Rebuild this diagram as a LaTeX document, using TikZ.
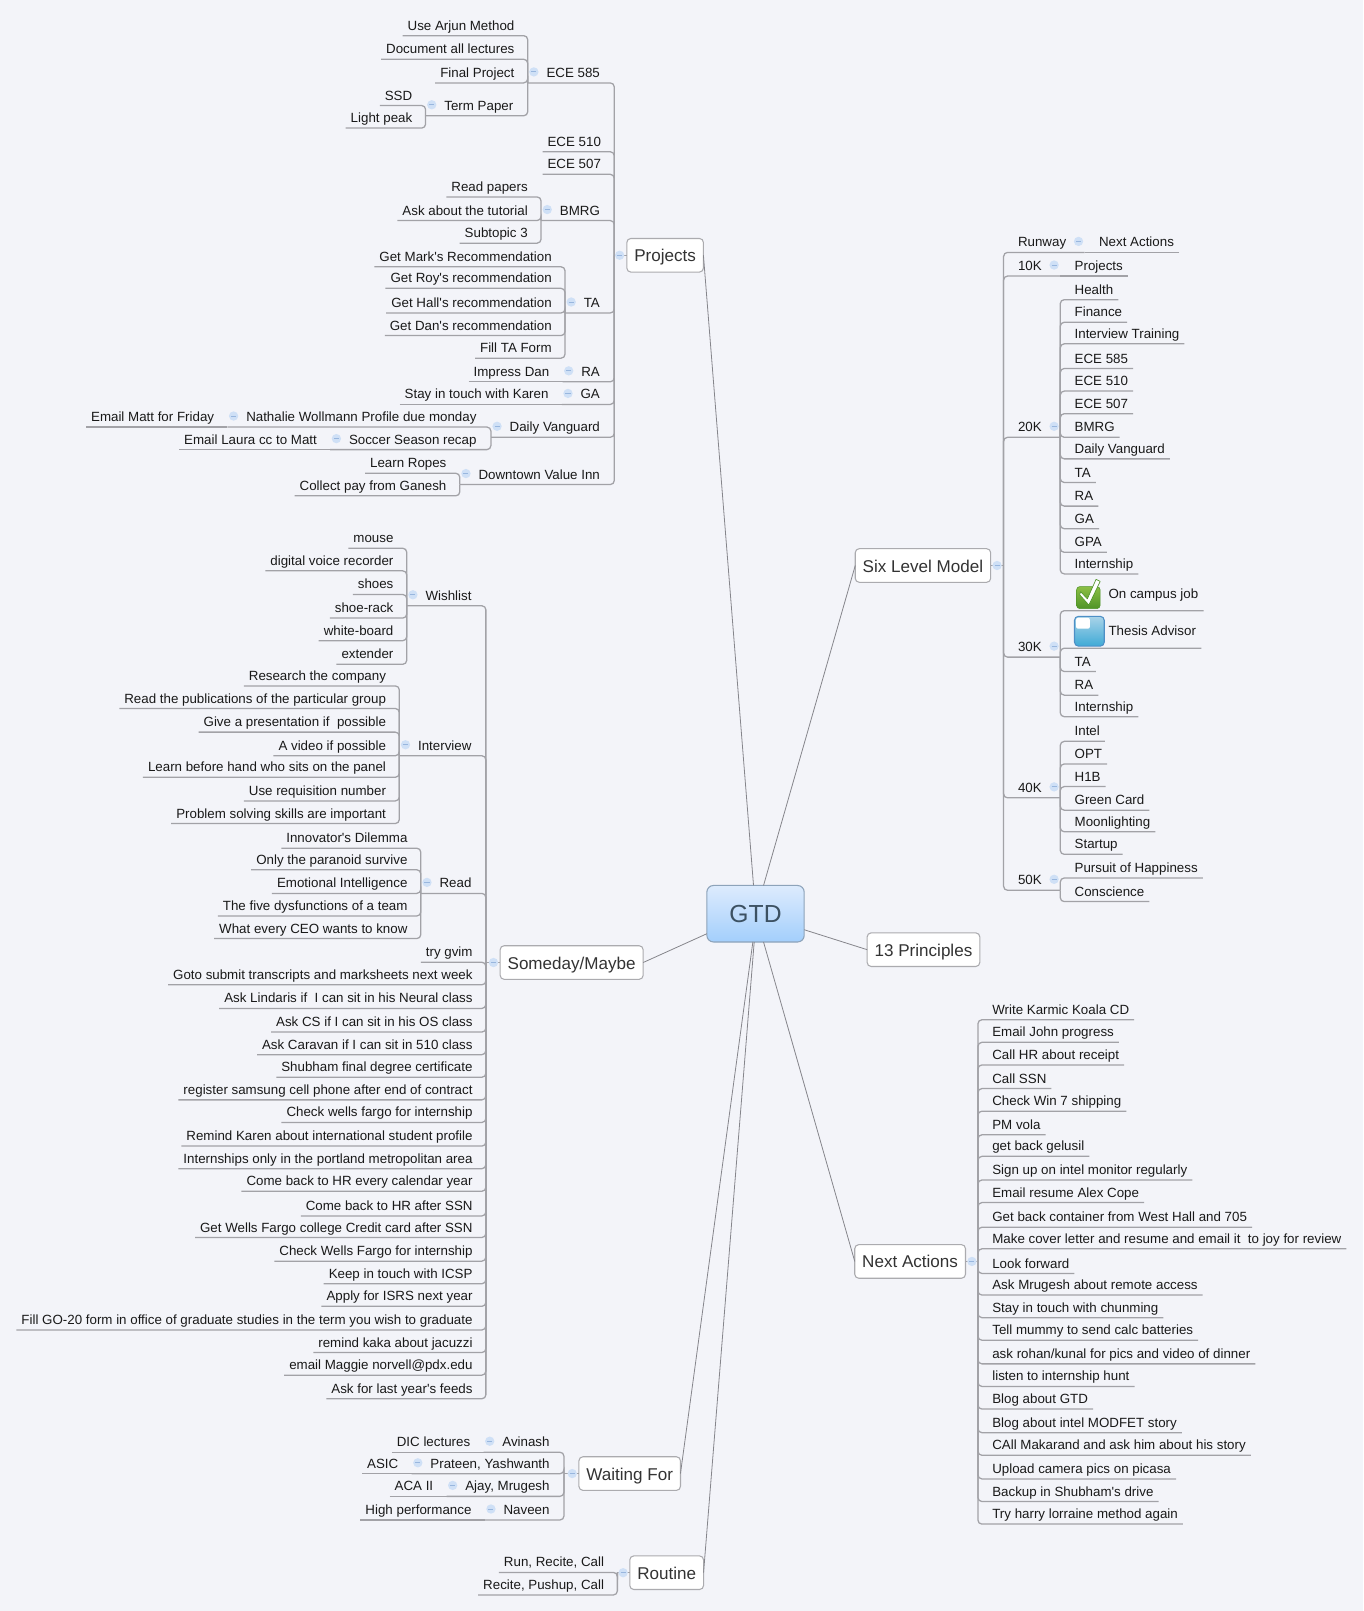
\documentclass[tikz,border=0pt]{standalone}
\usepackage{fontspec}
\setmainfont{Liberation Sans}[Ligatures=TeXOff]
\usetikzlibrary{positioning}
\definecolor{paper}{HTML}{F3F4F9}
\definecolor{linegray}{HTML}{A2A2A7}
\definecolor{spokegray}{HTML}{85858B}
\definecolor{boxgray}{HTML}{ABABAF}
\definecolor{markfill}{HTML}{CFE0F6}
\definecolor{markdash}{HTML}{98B6DE}
\definecolor{gtdtop}{HTML}{DDEBFD}
\definecolor{gtdbottom}{HTML}{A3CFFC}
\definecolor{gtdedge}{HTML}{8DA3BA}
\definecolor{gtdtext}{HTML}{3C5162}
\definecolor{checktop}{HTML}{8CBF45}
\definecolor{checkbottom}{HTML}{4F9428}
\definecolor{thesistop}{HTML}{A9D3E8}
\definecolor{thesisbottom}{HTML}{3FAAD6}
\definecolor{thesisedge}{HTML}{4D8FC6}
\tikzset{
  x=0.7704pt, y=0.7704pt,
  padx/.style 2 args={inner xsep=0pt, execute at begin node=\kern#1pt\relax, execute at end node=\kern#2pt\relax},
  leaf/.style={font=\fontsize{10}{12}\selectfont, text=black!90, outer sep=0pt, inner ysep=1.1pt, text height=8pt, text depth=3pt},
  kidl/.style={leaf, anchor=south east, padx={3.8}{10}},
  parl/.style={leaf, anchor=south east, padx={14.1}{10.8}},
  kidr/.style={leaf, anchor=south west, padx={10.8}{3.8}},
  parr/.style={leaf, anchor=south west, padx={10.8}{13.9}},
  iconkid/.style={leaf, anchor=south west, padx={36.2}{4}, text depth=8.4pt},
  branch/.style={draw=linegray, line width=.95pt, rounded corners=3pt},
  spoke/.style={draw=spokegray, line width=.6pt},
  topic/.style={draw=boxgray, line width=.8pt, fill=white, rounded corners=3pt, outer sep=0pt, inner xsep=5.6pt, minimum height=25.2pt, text height=11.3pt, text depth=1.5pt, font=\fontsize{12.8}{15}\selectfont, text=black!80},
  marker/.style={circle, inner sep=0pt, minimum size=7pt, fill=markfill, path picture={\draw[markdash, line width=.7pt] ([xshift=1.6pt]path picture bounding box.west) -- ([xshift=-1.6pt]path picture bounding box.east);}},
}
\newcommand{\kidsl}[3]{\foreach \ty/\txt [count=\i] in {#3} {
  \node[kidl] (#1\i) at (#2 |- 0,-\ty-10.7) {\txt};
  \draw[branch] (#1\i.south west) -- (#1\i.south east) -- (#2);
}}
\newcommand{\kidsr}[3]{\foreach \ty/\txt [count=\i] in {#3} {
  \node[kidr] (#1\i) at (#2 |- 0,-\ty-10.7) {\txt};
  \draw[branch] (#1\i.south east) -- (#1\i.south west) -- (#2);
}}
\newcommand{\parentl}[4]{
  \node[parl] (#1) at (#2 |- 0,-#3-10.7) {#4};
  \draw[branch] (#1.south west) -- (#1.south east) -- (#2);
  \node[marker] (#1m) at ([shift={(6,10.7)}]#1.south west) {};
}
\newcommand{\parentr}[4]{
  \node[parr] (#1) at (#2 |- 0,-#3-10.7) {#4};
  \draw[branch] (#1.south east) -- (#1.south west) -- (#2);
  \node[marker] (#1m) at ([shift={(-6,10.7)}]#1.south east) {};
}
% a lone child sits on its parent's line
\newcommand{\lonel}[3]{
  \node[kidl, anchor=south east] (#1) at (#2.south west) {#3};
  \draw[draw=linegray, line width=.95pt] (#1.south west) -- (#2.south west);
}
\newcommand{\loner}[3]{
  \node[kidr, anchor=south west] (#1) at (#2.south east) {#3};
  \draw[draw=linegray, line width=.95pt] (#1.south east) -- (#2.south east);
}
\begin{document}
\begin{tikzpicture}
\useasboundingbox (0,0) rectangle (1326.9,-1568.3);
\fill[paper] (0,0) rectangle (1326.9,-1568.3);

\node[topic] (projects) at (647.5,-248.5) {Projects};
\node[topic] (six) at (898.5,-550.5) {Six Level Model};
\node[topic] (principles) at (899,-924.5) {13 Principles};
\node[topic] (someday) at (556.5,-937) {Someday/Maybe};
\node[topic] (next) at (886,-1228) {Next Actions};
\node[topic] (waiting) at (613,-1434.5) {Waiting For};
\node[topic] (routine) at (649,-1531) {Routine};
\node[draw=gtdedge, line width=.8pt, rounded corners=5pt, top color=gtdtop, bottom color=gtdbottom, minimum width=73pt, minimum height=42.4pt, outer sep=0pt, font=\fontsize{18.5}{22}\selectfont, text=gtdtext] (gtd) at (735.5,-889.5) {GTD};

\draw[spoke] ([xshift=-1.5pt]gtd.north) -- (projects.east);
\draw[spoke] ([xshift=6pt]gtd.north) -- (six.west);
\draw[spoke] ([yshift=-12pt]gtd.east) -- (principles.west);
\draw[spoke] ([yshift=-15pt]gtd.west) -- (someday.east);
\draw[spoke] ([xshift=6pt]gtd.south) -- (next.west);
\draw[spoke] ([xshift=-2pt]gtd.south) -- (waiting.east);
\draw[spoke] ([xshift=-1pt]gtd.south) -- (routine.east);

\coordinate (projT) at (598,-248.5);
\draw[branch] (projT) -- (projects.west);
\node[marker] (projm) at ([xshift=-5.4pt]projects.west) {};
\parentl{ece}{projT}{70}{ECE 585}
\kidsl{ecek}{ece.south west}{24/Use Arjun Method, 47/Document all lectures, 70/Final Project}
\parentl{term}{ece.south west}{102}{Term Paper}
\kidsl{termk}{term.south west}{92/SSD, 114/Light peak}
\kidsl{projk}{projT}{137/ECE 510, 159/ECE 507}
\parentl{bmrg}{projT}{204}{BMRG}
\kidsl{bmrgk}{bmrg.south west}{181/Read papers, 204/Ask about the tutorial, 226/Subtopic 3}
\parentl{ta}{projT}{294}{TA}
\kidsl{tak}{ta.south west}{249/Get Mark's Recommendation, 270/Get Roy's recommendation, 294/Get Hall's recommendation, 316/Get Dan's recommendation, 338/Fill TA Form}
\parentl{ra}{projT}{361}{RA}
\lonel{impress}{ra}{Impress Dan}
\parentl{ga}{projT}{383}{GA}
\lonel{karen}{ga}{Stay in touch with Karen}
\parentl{daily}{projT}{415}{Daily Vanguard}
\parentl{nathalie}{daily.south west}{405}{Nathalie Wollmann Profile due monday}
\lonel{matt}{nathalie}{Email Matt for Friday}
\parentl{soccer}{daily.south west}{427}{Soccer Season recap}
\lonel{laura}{soccer}{Email Laura cc to Matt}
\parentl{downtown}{projT}{461}{Downtown Value Inn}
\kidsl{downk}{downtown.south west}{450/Learn Ropes, 472/Collect pay from Ganesh}

\coordinate (someT) at (473,-937);
\draw[branch] (someT) -- (someday.west);
\node[marker] (somem) at ([xshift=-5pt]someday.west) {};
\parentl{wish}{someT}{579}{Wishlist}
\kidsl{wishk}{wish.south west}{523/mouse, 545/digital voice recorder, 568/shoes, 591/shoe-rack, 613/white-board, 636/extender}
\parentl{interview}{someT}{725}{Interview}
\kidsl{intk}{interview.south west}{657/Research the company, 679/Read the publications of the particular group, 702/Give a presentation if\ \ possible, 725/A video if possible, 746/Learn before hand who sits on the panel, 769/Use requisition number, 791/Problem solving skills are important}
\parentl{read}{someT}{859}{Read}
\kidsl{readk}{read.south west}{815/Innovator's Dilemma, 836/Only the paranoid survive, 859/Emotional Intelligence, 881/The five dysfunctions of a team, 903/What every CEO wants to know}
\kidsl{somek}{someT}{926/try gvim, 948/Goto submit transcripts and marksheets next week, 971/Ask Lindaris if\ \ I can sit in his Neural class, 994/Ask CS if I can sit in his OS class, 1016/Ask Caravan if I can sit in 510 class, 1038/Shubham final degree certificate, 1060/register samsung cell phone after end of contract, 1082/Check wells fargo for internship, 1105/Remind Karen about international student profile, 1127/Internships only in the portland metropolitan area, 1149/Come back to HR every calendar year, 1173/Come back to HR after SSN, 1194/Get Wells Fargo college Credit card after SSN, 1217/Check Wells Fargo for internship, 1239/Keep in touch with ICSP, 1261/Apply for ISRS next year, 1284/Fill GO-20 form in office of graduate studies in the term you wish to graduate, 1306/remind kaka about jacuzzi, 1328/email Maggie norvell@pdx.edu, 1351/Ask for last year's feeds}

\coordinate (waitT) at (549,-1434.5);
\draw[branch] (waitT) -- (waiting.west);
\node[marker] (waitm) at ([xshift=-5pt]waiting.west) {};
\parentl{avinash}{waitT}{1403}{Avinash}
\lonel{dic}{avinash}{DIC lectures}
\parentl{prateen}{waitT}{1424}{Prateen, Yashwanth}
\lonel{asic}{prateen}{ASIC}
\parentl{ajay}{waitT}{1446}{Ajay, Mrugesh}
\lonel{aca}{ajay}{ACA II}
\parentl{naveen}{waitT}{1469}{Naveen}
\lonel{highperf}{naveen}{High performance}

\coordinate (routT) at (601,-1531);
\draw[branch] (routT) -- (routine.west);
\node[marker] (routm) at ([xshift=-5pt]routine.west) {};
\kidsl{routk}{routT}{1520/{Run, Recite, Call}, 1542/{Recite, Pushup, Call}}

\coordinate (sixT) at (977,-550.5);
\draw[branch] (six.east) -- (sixT);
\node[marker] (sixm) at ([xshift=4.8pt]six.east) {};
\parentr{runway}{sixT}{235}{Runway}
\loner{runnext}{runway}{Next Actions}
\parentr{tenk}{sixT}{258}{10K}
\loner{tenproj}{tenk}{Projects}
\parentr{twentyk}{sixT}{415}{20K}
\kidsr{twenk}{twentyk.south east}{281/Health, 303/Finance, 324/Interview Training, 348/ECE 585, 370/ECE 510, 392/ECE 507, 415/BMRG, 436/Daily Vanguard, 459/TA, 482/RA, 504/GA, 527/GPA, 548/Internship}
\parentr{thirtyk}{sixT}{629}{30K}
\node[iconkid] (campus) at (thirtyk.south east |- 0,-594.5) {On campus job};
\draw[branch] (campus.south east) -- (campus.south west) -- (thirtyk.south east);
\node[iconkid] (thesis) at (thirtyk.south east |- 0,-631) {Thesis Advisor};
\draw[branch] (thesis.south east) -- (thesis.south west) -- (thirtyk.south east);
\kidsr{thirk}{thirtyk.south east}{643/TA, 666/RA, 687/Internship}
\draw[draw=checkbottom, line width=.4pt, rounded corners=2.5pt, top color=checktop, bottom color=checkbottom] (1048,-571) rectangle (1071,-592.5);
\draw[draw=checkbottom, line width=.5pt, fill=white, line join=round] (1052,-576) -- (1058.5,-583) -- (1067,-564) -- (1071,-566) -- (1060,-589) -- (1051,-579) -- cycle;
\draw[draw=thesisedge, line width=.8pt, rounded corners=3pt, top color=thesistop, bottom color=thesisbottom] (1046,-600) rectangle (1075,-629);
\fill[white, rounded corners=1.5pt] (1047.5,-601.5) rectangle (1061,-612);
\parentr{fortyk}{sixT}{766}{40K}
\kidsr{fortk}{fortyk.south east}{711/Intel, 733/OPT, 755/H1B, 778/Green Card, 799/Moonlighting, 821/Startup}
\parentr{fiftyk}{sixT}{856}{50K}
\kidsr{fiftk}{fiftyk.south east}{844/Pursuit of Happiness, 867/Conscience}

\coordinate (nextT) at (952,-1228);
\draw[branch] (next.east) -- (nextT);
\node[marker] (nextm) at ([xshift=4.8pt]next.east) {};
\kidsr{nextk}{nextT}{982/Write Karmic Koala CD, 1004/Email John progress, 1026/Call HR about receipt, 1049/Call SSN, 1071/Check Win 7 shipping, 1094/PM vola, 1115/get back gelusil, 1138/Sign up on intel monitor regularly, 1160/Email resume Alex Cope, 1184/Get back container from West Hall and 705, 1205/Make cover letter and resume and email it\ \ to joy for review, 1229/Look forward, 1250/Ask Mrugesh about remote access, 1272/Stay in touch with chunming, 1294/Tell mummy to send calc batteries, 1317/{ask rohan/kunal for pics and video of dinner}, 1339/listen to internship hunt, 1361/Blog about GTD, 1384/Blog about intel MODFET story, 1406/CAll Makarand and ask him about his story, 1429/Upload camera pics on picasa, 1451/Backup in Shubham's drive, 1473/Try harry lorraine method again}
\end{tikzpicture}
\end{document}
